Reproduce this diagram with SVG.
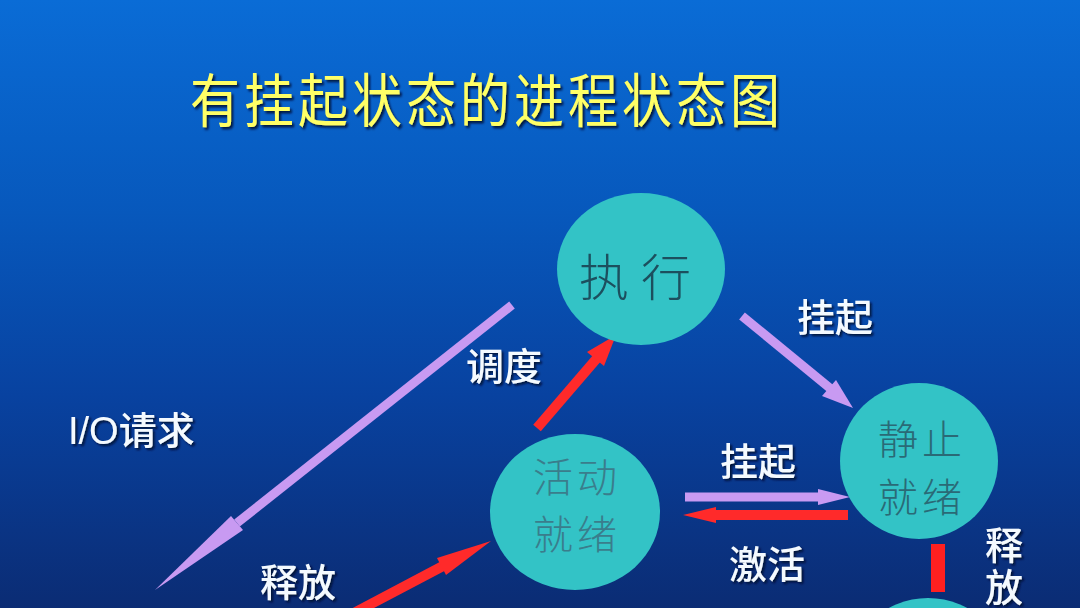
<svg xmlns="http://www.w3.org/2000/svg" width="1080" height="608" viewBox="0 0 1080 608">
  <defs>
    <linearGradient id="bg" x1="0" y1="0" x2="0" y2="1">
      <stop offset="0" stop-color="#0a6cd6"/>
      <stop offset="0.35" stop-color="#0758bc"/>
      <stop offset="0.65" stop-color="#0842a0"/>
      <stop offset="1" stop-color="#0b2c74"/>
    </linearGradient>
    <filter id="shadow" x="-10%" y="-10%" width="130%" height="130%">
      <feDropShadow dx="2" dy="2" stdDeviation="0.8" flood-color="#001030" flood-opacity="0.9"/>
    </filter>
  </defs>
  <style>
    .title { font-family: "Noto Sans CJK SC", sans-serif; font-size: 50px; fill: #ffff66; }
    .label { font-family: "Noto Sans CJK SC", sans-serif; font-size: 38px; fill: #f4faff; font-weight: 500; }
    .node { fill: #33c3c6; }
    .ntext { font-family: "Noto Sans CJK SC", sans-serif; text-anchor: middle; font-weight: 300; }
    .purple { stroke: #c89af2; stroke-width: 9; fill: none; }
    .red { stroke: #ff2a2a; stroke-width: 10; fill: none; }
    .phead { fill: #c89af2; }
    .rhead { fill: #ff2a2a; }
  </style>
  <rect width="1080" height="608" fill="url(#bg)"/>

  <text class="title" x="190" y="122" textLength="590" filter="url(#shadow)" transform="translate(0,-18) scale(1,1.15)">有挂起状态的进程状态图</text>

  <g id="connectors">
    <!-- I/O request -->
    <line class="purple" x1="512" y1="305" x2="237" y2="523"/>
    <polygon class="phead" points="243,530 155,590 231,516"/>
    <!-- schedule -->
    <line class="red" x1="537" y1="428" x2="598" y2="357"/>
    <polygon class="rhead" points="604,366 616,335 587,352"/>
    <!-- suspend from running -->
    <line class="purple" x1="742" y1="316" x2="831" y2="389"/>
    <polygon class="phead" points="822,396 853,408 836,380"/>
    <!-- suspend active ready -> static ready -->
    <line class="purple" x1="685" y1="497" x2="822" y2="497"/>
    <polygon class="phead" points="818,489 850,497 818,505"/>
    <!-- activate -->
    <line class="red" x1="848" y1="515" x2="712" y2="515" stroke-width="9"/>
    <polygon class="rhead" points="716,507 683,515 716,523"/>
    <!-- release bottom left -->
    <line class="red" x1="352" y1="614" x2="443" y2="566" stroke-width="9"/>
    <polygon class="rhead" points="446,575 491,541 437,558"/>
    <!-- release right vertical -->
    <rect x="931" y="544" width="14" height="48" fill="#ff2020"/>
  </g>

  <g id="node-run">
    <ellipse class="node" cx="641" cy="269" rx="84" ry="76"/>
    <text class="ntext" x="641" y="296" font-size="50" letter-spacing="12" fill="#1c4f5e">执行</text>
  </g>
  <g id="node-active-ready">
    <ellipse class="node" cx="575" cy="512" rx="85" ry="78"/>
    <text class="ntext" font-size="40" letter-spacing="4" fill="#3a7d8c"><tspan x="577" y="492">活动</tspan><tspan x="577" y="549">就绪</tspan></text>
  </g>
  <g id="node-static-ready">
    <ellipse class="node" cx="919" cy="461" rx="79" ry="78"/>
    <text class="ntext" font-size="40" letter-spacing="4" fill="#2a6a76"><tspan x="922" y="454">静止</tspan><tspan x="922" y="512">就绪</tspan></text>
  </g>
  <g id="node-static-blocked">
    <ellipse class="node" cx="928" cy="680" rx="82" ry="82"/>
  </g>

  <g id="labels" filter="url(#shadow)">
    <text class="label" x="466" y="380">调度</text>
    <text class="label" x="797" y="331">挂起</text>
    <text class="label" x="720" y="475">挂起</text>
    <text class="label" x="729" y="578">激活</text>
    <text class="label" x="260" y="596">释放</text>
    <text class="label" x="1004" y="526" font-size="37" writing-mode="tb" letter-spacing="4">释放</text>
    <text class="label" x="68" y="444" font-size="40"><tspan font-family="Liberation Sans, sans-serif">I/O</tspan>请求</text>
  </g>
</svg>
